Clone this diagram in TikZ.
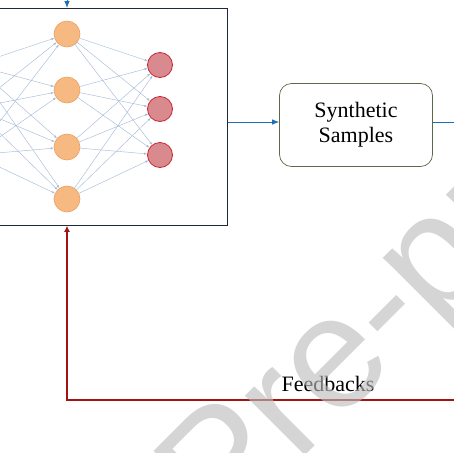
\documentclass[tikz,border=0pt]{standalone}
\usepackage{fontspec}
\setmainfont{Liberation Serif}
\newfontfamily\wmfont{Liberation Sans}
\usetikzlibrary{arrows.meta}
\definecolor{boxc}{RGB}{30,40,60}
\definecolor{hidfill}{RGB}{247,185,130}
\definecolor{hiddraw}{RGB}{235,160,95}
\definecolor{outfill}{RGB}{216,138,142}
\definecolor{outdraw}{RGB}{205,35,45}
\definecolor{edgec}{RGB}{165,188,215}
\definecolor{bluec}{RGB}{30,110,180}
\definecolor{redc}{RGB}{160,20,20}
\definecolor{ssdraw}{RGB}{90,105,70}
\definecolor{wmc}{RGB}{188,188,188}
\tikzset{
  hid/.style={circle, fill=hidfill, draw=hiddraw, line width=0.6pt, minimum size=26pt, inner sep=0pt},
  outn/.style={circle, fill=outfill, draw=outdraw, line width=0.8pt, minimum size=25pt, inner sep=0pt},
  inn/.style={circle, minimum size=25pt, inner sep=0pt},
  wedge/.style={draw=edgec, line width=0.45pt, -{Latex[length=3pt,width=2.4pt]}},
  bluearrow/.style={draw=bluec, line width=0.8pt, -{Latex[length=7pt,width=5.5pt]}},
  lbl/.style={font=\fontsize{22}{25}\selectfont, align=center},
}
\begin{document}
\begin{tikzpicture}[x=1pt,y=-1pt]
\useasboundingbox (0,0) rectangle (453,453);
% network frame
\node (net) [draw=boxc, line width=0.8pt, minimum width=360pt, minimum height=217pt, inner sep=0pt, anchor=north east] at (228,8) {};
% input nodes (off canvas)
\node (i1) [inn] at (-26,65) {};
\node (i2) [inn] at (-26,108) {};
\node (i3) [inn] at (-26,155) {};
% hidden
\node (h1) [hid] at (67,34) {};
\node (h2) [hid] at (67,90) {};
\node (h3) [hid] at (67,147) {};
\node (h4) [hid] at (67,199) {};
% output
\node (o1) [outn] at (160,65) {};
\node (o2) [outn] at (160,109) {};
\node (o3) [outn] at (160,155) {};
\foreach \a in {i1,i2,i3}{\foreach \b in {h1,h2,h3,h4}{\draw[wedge] (\a) -- (\b);}}
\foreach \a in {h1,h2,h3,h4}{\foreach \b in {o1,o2,o3}{\draw[wedge] (\a) -- (\b);}}
% synthetic samples
\node (ss) [draw=ssdraw, line width=0.7pt, rounded corners=12pt, minimum width=153pt, minimum height=83pt, lbl] at (356,125) {Synthetic\\Samples};
\coordinate (topin) at (67,-6);
\coordinate (outr) at (470,122);
\coordinate (fbr) at (470,400);
\coordinate (fbc) at (67,400);
\draw[bluearrow] (topin) -- (topin |- net.north);
\draw[bluearrow] (net.east |- 0,122) -- (ss.west |- 0,122);
\draw[draw=bluec, line width=0.8pt] (ss.east |- outr) -- (outr);
\draw[draw=redc, line width=1.3pt, -{Latex[length=6pt,width=6pt]}] (fbr) -- (fbc) -- (fbc |- net.south);
\node (fbl) [lbl, anchor=base] at (328,391) {Feedbacks};
% watermark
\node (wm) [text=wmc, text opacity=0.62, font=\wmfont\fontsize{160}{160}\selectfont, rotate=45, anchor=base west, inner sep=0pt] at (222,539) {Pre-proof};
\end{tikzpicture}
\end{document}
